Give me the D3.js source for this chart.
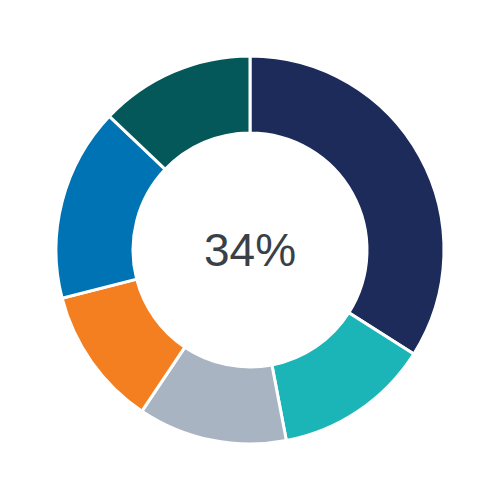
<!DOCTYPE html>
<html>
<head>
<meta charset="utf-8">
<script src="https://cdn.jsdelivr.net/npm/d3@7"></script>
<style>
  html, body { margin: 0; padding: 0; background: #fff; }
</style>
</head>
<body>
<svg id="chart" width="500" height="500"></svg>
<script>
// slices, clockwise from 12 o'clock
var categories = ["A", "B", "C", "D", "E", "F"];
var values = [34, 13, 12.4, 11.6, 16.1, 12.9];
var colors = ["#1c2b5a", "#1bb5b7", "#a9b4c2", "#f47f20", "#0073b4", "#04585a"];
var centerLabel = "34%";

var svg = d3.select("#chart");
var cx = 250, cy = 250, outerR = 194, innerR = 117;

var g = svg.append("g").attr("transform", "translate(" + cx + "," + cy + ")");

var pie = d3.pie().sort(null).value(function(d) { return d; });
var arc = d3.arc().innerRadius(innerR).outerRadius(outerR);

g.selectAll("path")
  .data(pie(values))
  .enter().append("path")
  .attr("d", arc)
  .attr("fill", function(d, i) { return colors[i]; })
  .attr("stroke", "#fff")
  .attr("stroke-width", 3);

g.append("text")
  .attr("x", 0)
  .attr("y", 0)
  .attr("dy", "0.35em")
  .attr("text-anchor", "middle")
  .style("font-family", "'Liberation Sans', Arial, sans-serif")
  .style("font-size", "46px")
  .style("fill", "#3b3f47")
  .text(centerLabel);
</script>
</body>
</html>
